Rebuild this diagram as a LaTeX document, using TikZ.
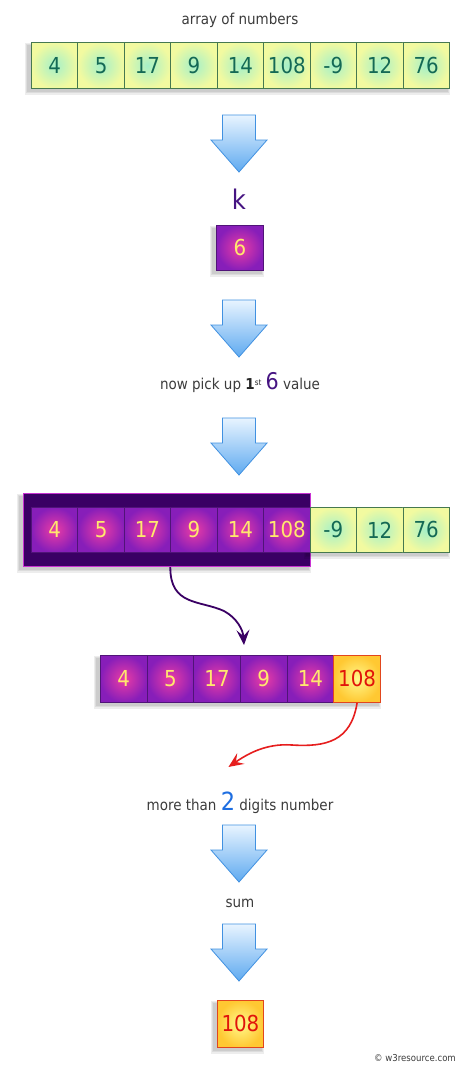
\documentclass[tikz,border=0pt]{standalone}
\usepackage{fontspec}
\setmainfont{DejaVu Sans Condensed}
\usetikzlibrary{arrows.meta,calc}
\definecolor{gborder}{RGB}{70,120,80}
\definecolor{gin}{RGB}{165,240,200}
\definecolor{gout}{RGB}{242,250,160}
\definecolor{gtext}{RGB}{20,105,85}
\definecolor{pborder}{RGB}{80,20,120}
\definecolor{pin}{RGB}{235,60,165}
\definecolor{pout}{RGB}{135,30,185}
\definecolor{ptext}{RGB}{255,232,110}
\definecolor{bigfill}{RGB}{58,0,100}
\definecolor{bigborder}{RGB}{200,50,210}
\definecolor{yin}{RGB}{255,248,140}
\definecolor{yout}{RGB}{255,200,50}
\definecolor{yborder}{RGB}{225,70,30}
\definecolor{ytext}{RGB}{225,20,10}
\definecolor{indigo}{RGB}{70,20,130}
\definecolor{blue2}{RGB}{30,110,225}
\definecolor{labgray}{RGB}{60,60,60}
\definecolor{arrtop}{RGB}{232,244,255}
\definecolor{arrbot}{RGB}{95,170,240}
\definecolor{arrborder}{RGB}{65,145,225}
\definecolor{curvep}{RGB}{58,0,100}
\definecolor{curver}{RGB}{230,30,30}
\tikzset{
  cellbase/.style={draw, line width=0.8pt, inner sep=0pt, anchor=north west,
    font=\fontsize{22}{22}\selectfont},
  greencell/.style={cellbase, draw=gborder, inner color=gin, outer color=gout, text=gtext},
  purplecell/.style={cellbase, draw=pborder, inner color=pin, outer color=pout, text=ptext},
  yellowcell/.style={cellbase, draw=yborder, inner color=yin, outer color=yout, text=ytext},
  lab/.style={text=labgray, font=\fontsize{15}{15}\selectfont, inner sep=0pt},
  blockarrow/.style={draw=arrborder, line width=0.8pt, top color=arrtop, bottom color=arrbot},
  shadowlayer/.style={fill=black, opacity=0.07},
  bigtip/.style={-{Stealth[length=15pt, width=13pt, inset=6pt]}}
}
\newcommand{\barrow}[2]{%
  \coordinate (#1) at (239,#2);
  \path[blockarrow] ($(#1)+(-16.5,0)$) -- ($(#1)+(16.5,0)$) -- ($(#1)+(16.5,25)$)
    -- ($(#1)+(28,25)$) -- ($(#1)+(0,57)$) -- ($(#1)+(-28,25)$)
    -- ($(#1)+(-16.5,25)$) -- cycle;}
\newcommand{\rowshadow}[4]{%
  \fill[shadowlayer] (#1-6,#2+1) rectangle (#3+1,#4+7);
  \fill[shadowlayer] (#1-5,#2+2) rectangle (#3,#4+5);
  \fill[shadowlayer] (#1-4,#2+3) rectangle (#3-1,#4+4);}
\begin{document}
\begin{tikzpicture}[x=1pt,y=-1pt]
\useasboundingbox (0,0) rectangle (474,1074);
\fill[white] (0,0) rectangle (474,1074);

% title
\node[lab] (title) at (240,20) {array of numbers};

% top row
\rowshadow{31}{42}{449}{88}
\foreach \v [count=\i] in {4,5,17,9,14,108,-9,12,76}{
  \node[greencell, minimum width=46.44pt, minimum height=46pt] (t\i) at ({31+(\i-1)*46.44},42) {\v};
}

\barrow{a1}{115}

\node[text=indigo, font=\fontsize{27}{27}\selectfont, inner sep=0pt] (k) at (239,199) {k};

\rowshadow{216}{225}{263}{270}
\node[purplecell, minimum width=47pt, minimum height=45pt] (kval) at (216,225) {6};

\barrow{a2}{300}

\node[lab] (pick) at (240,383) {now pick up {\color{black!85}\textbf{1}\raisebox{4pt}{\fontsize{8}{8}\selectfont st}}
  {\color{indigo}\fontsize{23}{23}\selectfont 6} value};

\barrow{a3}{418}

% selected row
\rowshadow{23}{493}{310}{566}
\node[draw=bigborder, line width=1pt, fill=bigfill, anchor=north west, inner sep=0pt,
  minimum width=287pt, minimum height=73pt] (big) at (23,493) {};
\rowshadow{310}{507}{449}{552}
\foreach \v [count=\i] in {4,5,17,9,14,108}{
  \node[purplecell, minimum width=46.44pt, minimum height=45pt] (p\i) at ({31+(\i-1)*46.44},507) {\v};
}
\foreach \v [count=\i from 7] in {-9,12,76}{
  \node[greencell, minimum width=46.44pt, minimum height=45pt] (p\i) at ({31+(\i-1)*46.44},507) {\v};
}

% first six row
\rowshadow{100}{655}{380}{702}
\foreach \v [count=\i] in {4,5,17,9,14}{
  \node[purplecell, minimum width=46.67pt, minimum height=47pt] (b\i) at ({100+(\i-1)*46.67},655) {\v};
}
\node[yellowcell, minimum width=46.67pt, minimum height=47pt] (b6) at ({100+5*46.67},655) {108};

% curved arrows
\coordinate (ptip) at ($(b4.north west)+(4,-10)$);
\draw[curvep, line width=1.8pt, bigtip]
  (p4.west |- big.south) .. controls (170,606) and (200,600) .. (224,611)
  .. controls (237,618) and (243,630) .. (ptip);

\node[lab] (more) at (240,803) {more than {\color{blue2}\fontsize{25}{25}\selectfont 2} digits number};

\coordinate (rtip) at ($(more.north west)+(82,-25)$);
\draw[curver, line width=1.6pt, bigtip]
  (b6.south) .. controls (351,742) and (325,747) .. (292,745)
  .. controls (265,743) and (246,755) .. (rtip);

\barrow{a4}{825}

\node[lab] (sum) at (240,903) {sum};

\barrow{a5}{924}

\rowshadow{217}{1000}{263}{1047}
\node[yellowcell, minimum width=46pt, minimum height=47pt] (res) at (217,1000) {108};

\node[text=labgray, font=\fontsize{9.5}{9.5}\selectfont, inner sep=0pt] (copy) at (415,1058) {© w3resource.com};
\end{tikzpicture}
\end{document}
